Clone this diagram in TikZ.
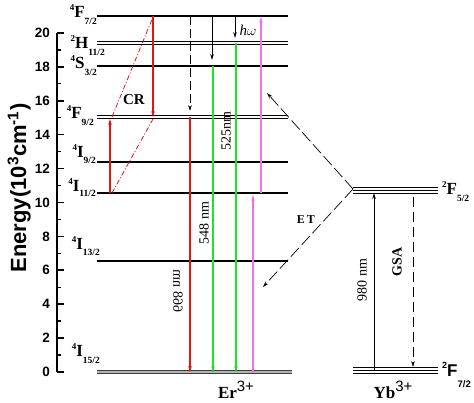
\documentclass[tikz,border=0pt]{standalone}
\usepackage{fontspec}
\setmainfont{Liberation Serif}
\setsansfont{Liberation Sans}
\usetikzlibrary{arrows.meta}
\definecolor{ered}{RGB}{228,20,20}
\definecolor{egreen}{RGB}{30,230,30}
\definecolor{emag}{RGB}{240,110,240}
\newcommand{\lvlab}[4]{\raisebox{7pt}{\fontsize{9}{9}\selectfont#1}{\fontsize{17}{17}\selectfont#2}\raisebox{#4}{\fontsize{9.5}{9.5}\selectfont#3}}
\begin{document}
\begin{tikzpicture}[x=1pt,y=-1pt,
 lvl/.style={line width=1.4pt},
 dlvl/.style={line width=1.1pt, double, double distance=1.1pt},
 glvl/.style={line width=0.9pt, draw=black!75, double=gray!60, double distance=1.5pt},
 ylvl/.style={line width=0.7pt},
 arrtip/.style={-{Stealth[length=6pt,width=3.6pt]}},
 rarr/.style={arrtip, draw=ered, line width=1.1pt},
 garr/.style={arrtip, draw=egreen, line width=1.1pt},
 marr/.style={arrtip, draw=emag, line width=1.1pt},
 karr/.style={arrtip, draw=black, line width=0.9pt},
 kdash/.style={karr, dash pattern=on 9pt off 4pt},
 rdashdot/.style={draw=ered, line width=0.8pt, dash pattern=on 5pt off 2pt on 1pt off 2pt},
 etline/.style={arrtip, line width=0.7pt, dash pattern=on 12pt off 4pt},
 levlab/.style={font=\bfseries, inner sep=0pt, anchor=base east},
 ticklab/.style={font=\sffamily\bfseries\fontsize{13.5}{13.5}\selectfont, anchor=east, inner sep=0pt},
 wl/.style={font=\fontsize{14}{14}\selectfont, rotate=90, inner sep=0pt},
 blab/.style={font=\bfseries\fontsize{14}{14}\selectfont, inner sep=0pt},
]
\useasboundingbox (0,0) rectangle (474,403);

% axis
\draw[line width=1.6pt] (57,33) -- (57,372);
\foreach \e in {0,2,...,20}{
  \draw[line width=1.6pt] (57,{372-16.95*\e}) -- ++(6.5,0);
  \node[ticklab] (t\e) at (50,{372-16.95*\e}) {\e};
}
\foreach \e in {1,3,...,19}{
  \draw[line width=1.3pt] (57,{372-16.95*\e}) -- ++(4,0);
}
\node[font=\sffamily\bfseries\fontsize{22}{22}\selectfont, rotate=90, anchor=base, inner sep=0pt] (ylab) at (26,188) {Energy(10\textsuperscript{3}cm\textsuperscript{-1})};

% Er levels
\draw[lvl] (97,16) -- (288,16);
\draw[dlvl] (97,43) -- (288,43);
\draw[lvl] (97,66) -- (288,66);
\draw[dlvl] (97,117) -- (288,117);
\draw[lvl] (97,162) -- (288,162);
\draw[lvl] (97,193) -- (288,193);
\draw[lvl] (97,261) -- (288,261);
\draw[glvl] (97,372) -- (292,372);

\node[levlab] (lF72) at (97,18) {\lvlab{4}{F}{7/2}{-6.5pt}};
\node[levlab] (lH112) at (105,49) {\lvlab{2}{H}{11/2}{-6.5pt}};
\node[levlab] (lS32) at (97,69) {\lvlab{4}{S}{3/2}{-6.5pt}};
\node[levlab] (lF92) at (94,119) {\lvlab{4}{F}{9/2}{-6.5pt}};
\node[levlab] (lI92) at (96,158) {\lvlab{4}{I}{9/2}{-6pt}};
\node[levlab] (lI112) at (96,192) {\lvlab{4}{I}{11/2}{-5pt}};
\node[levlab] (lI132) at (100,250) {\lvlab{4}{I}{13/2}{-6pt}};
\node[levlab] (lI152) at (100,356) {\lvlab{4}{I}{15/2}{-7pt}};

% Er transitions coordinates
\coordinate (r1s) at (110,193); \coordinate (r1e) at (110,119);
\coordinate (d1s) at (112,193); \coordinate (d1e) at (153,119);
\coordinate (d2s) at (112,117); \coordinate (d2e) at (153,17);
\coordinate (r2s) at (153,16);  \coordinate (r2e) at (153,117);
\coordinate (k1s) at (190,16);  \coordinate (k1e) at (190,111);
\coordinate (r3s) at (190,117); \coordinate (r3e) at (190,372);
\coordinate (k2s) at (212,16);  \coordinate (k2e) at (212,60);
\coordinate (g1s) at (213,66);  \coordinate (g1e) at (213,372);
\coordinate (k3s) at (235,16);  \coordinate (k3e) at (235,38);
\coordinate (g2s) at (236,43);  \coordinate (g2e) at (236,372);
\coordinate (m1s) at (253,372); \coordinate (m1e) at (253,195);
\coordinate (m2s) at (261,193); \coordinate (m2e) at (261,17);

\draw[rarr] (r1s) -- (r1e);
\draw[rdashdot] (d1s) -- (d1e);
\draw[rdashdot] (d2s) -- (d2e);
\draw[rarr] (r2s) -- (r2e);
\draw[kdash] (k1s) -- (k1e);
\draw[rarr] (r3s) -- (r3e);
\draw[karr] (k2s) -- (k2e);
\draw[garr] (g1s) -- (g1e);
\draw[karr] (k3s) -- (k3e);
\draw[garr] (g2s) -- (g2e);
\draw[marr] (m1s) -- (m1e);
\draw[marr] (m2s) -- (m2e);

\node[blab, font=\bfseries\fontsize{15}{15}\selectfont] (cr) at (134,100) {CR};
\node[inner sep=0pt, font=\itshape\fontsize{15}{15}\selectfont] (hw) at (248,30) {h$\omega$};
\node[wl] (w548) at (204,223) {548 nm};
\node[wl] (w525) at (226,131) {525nm};
\node[wl, yscale=-1] (w668) at (178,291) {668 nm};
\node[blab, font=\bfseries\fontsize{12}{12}\selectfont] (et) at (306,220) {E\,T};

% Yb levels
\draw[ylvl] (353,187.5) -- (438,187.5);
\draw[ylvl] (353,190.5) -- (438,190.5);
\draw[ylvl] (353,193.5) -- (438,193.5);
\draw[ylvl] (353,367) -- (438,367);
\draw[ylvl] (353,370) -- (438,370);
\draw[ylvl] (353,373) -- (438,373);
\node[anchor=base west, inner sep=0pt, font=\bfseries] (lF52) at (442,195) {\lvlab{2}{F}{5/2}{-7pt}};
\node[anchor=base west, inner sep=0pt, font=\sffamily\bfseries] (lF72b) at (442,376) {\lvlab{2}{F}{7/2}{-11pt}};

\coordinate (ybs) at (374,370); \coordinate (ybe) at (374,193);
\coordinate (gss) at (413,197); \coordinate (gse) at (413,367);
\draw[karr, line width=1pt] (ybs) -- (ybe);
\draw[kdash, line width=0.8pt, dash pattern=on 10pt off 5pt] (gss) -- (gse);
\node[wl] (w980) at (362,280) {980 nm};
\node[blab, rotate=90] (gsa) at (397,262) {GSA};

% ET
\coordinate (ets) at (353,189);
\coordinate (et1) at (267,93);
\coordinate (et2) at (263,287);
\draw[etline] (ets) -- (et1);
\draw[etline] (ets) -- (et2);

\node[inner sep=0pt] (er) at (236,390) {{\bfseries\fontsize{17}{17}\selectfont Er}\raisebox{7pt}{\sffamily\fontsize{15}{15}\selectfont 3+}};
\node[inner sep=0pt] (yb) at (393,390) {{\bfseries\fontsize{17}{17}\selectfont Yb}\raisebox{7pt}{\sffamily\fontsize{15}{15}\selectfont 3+}};
\end{tikzpicture}
\end{document}
